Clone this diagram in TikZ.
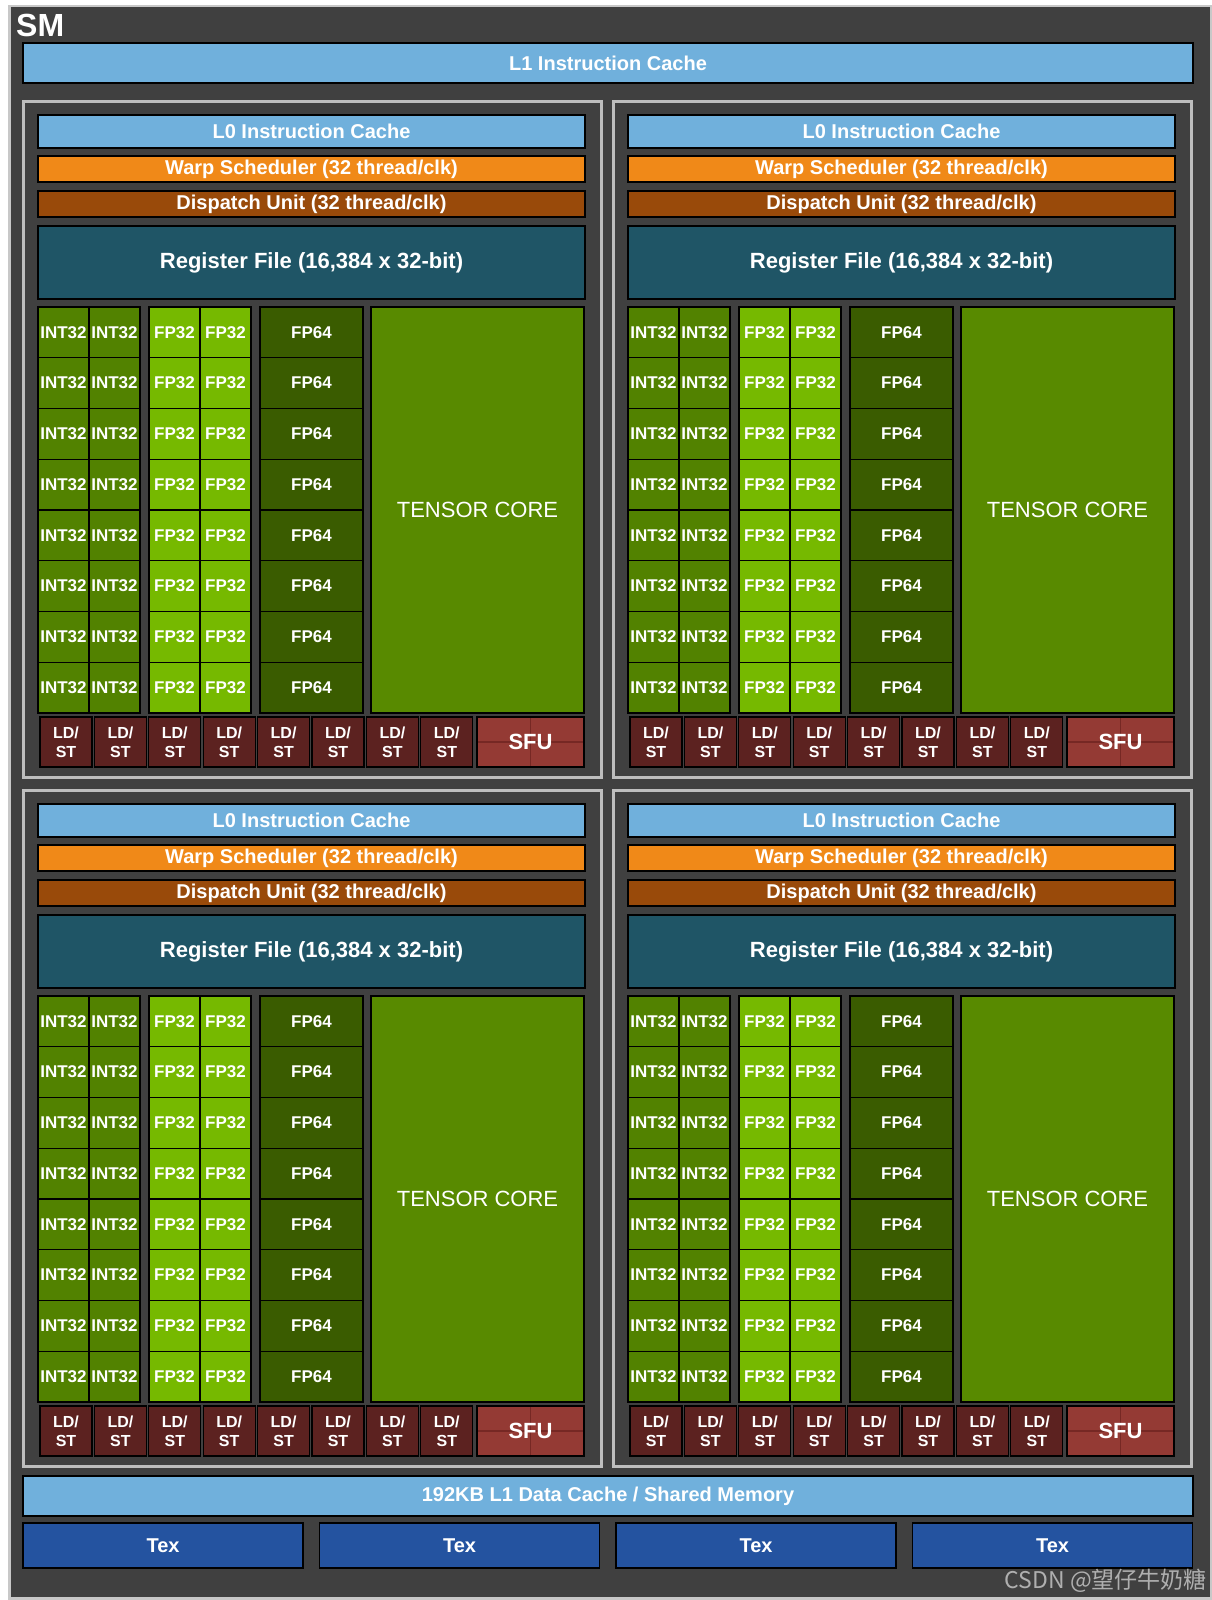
\documentclass[tikz,border=0pt]{standalone}
\usepackage{fontspec}
\setmainfont{Liberation Sans}
\newfontfamily\cjk{Noto Sans CJK SC}
\definecolor{cBG}{RGB}{64,64,64}
\definecolor{cOuter}{RGB}{200,200,200}
\definecolor{cQ}{RGB}{190,190,190}
\definecolor{cL1}{RGB}{112,176,220}
\definecolor{cWarp}{RGB}{240,137,24}
\definecolor{cDisp}{RGB}{153,74,10}
\definecolor{cReg}{RGB}{31,85,102}
\definecolor{cINT}{RGB}{82,130,0}
\definecolor{cFPs}{RGB}{118,185,0}
\definecolor{cFPd}{RGB}{58,92,0}
\definecolor{cTC}{RGB}{88,138,0}
\definecolor{cLDST}{RGB}{92,34,32}
\definecolor{cSFU}{RGB}{148,58,52}
\definecolor{cSFUl}{RGB}{118,40,36}
\definecolor{cTex}{RGB}{36,83,160}
\definecolor{cWM}{RGB}{175,175,175}
\newcommand\fs[2]{\fontsize{#1}{#2}\selectfont}
\newcommand\smquad[3]{%
\begin{scope}[shift={(#2,#3)}]
\node[qframe, minimum width=578pt, minimum height=676pt] (#1frame) at (1.5,1.5) {};
\node[bx, fill=cL1, font=\bfseries\fs{20}{24}, minimum width=547pt, minimum height=33pt] (#1lzero) at (16,15) {L0 Instruction Cache};
\node[bx, fill=cWarp, font=\bfseries\fs{20}{24}, minimum width=547pt, minimum height=26pt] (#1warp) at (16,56) {Warp Scheduler (32 thread/clk)};
\node[bx, fill=cDisp, font=\bfseries\fs{20}{24}, minimum width=547pt, minimum height=26pt] (#1disp) at (16,91) {Dispatch Unit (32 thread/clk)};
\node[bx, fill=cReg, font=\bfseries\fs{22}{26}, minimum width=547pt, minimum height=73pt] (#1reg) at (16,126) {Register File (16,384 x 32-bit)};
\foreach \r in {0,...,7}{%
 \pgfmathsetmacro\yy{207+\r*50.75}%
 \node[cell, fill=cINT] (#1inta\r) at (16,\yy) {INT32};
 \node[cell, fill=cINT] (#1intb\r) at (67,\yy) {INT32};
 \node[cell, fill=cFPs] (#1fpsa\r) at (127,\yy) {FP32};
 \node[cell, fill=cFPs] (#1fpsb\r) at (178,\yy) {FP32};
 \node[cell, fill=cFPd, minimum width=103pt] (#1fpd\r) at (238,\yy) {FP64};
}
\node[bx, fill=cTC, font=\fs{22}{26}, minimum width=213pt, minimum height=406pt] (#1tc) at (349,207) {TENSOR CORE};
\foreach \i in {0,...,7}{%
 \pgfmathsetmacro\xx{18+\i*54.4}%
 \node[ldst] (#1ldst\i) at (\xx,617) {LD/\\ST};
}
\node[bx, fill=cSFU, font=\bfseries\fs{22}{26}, minimum width=107pt, minimum height=50pt,
  path picture={\draw[cSFUl, line width=1.5pt] (path picture bounding box.north) -- (path picture bounding box.south);
  \draw[cSFUl, line width=1.5pt] (path picture bounding box.west) -- (path picture bounding box.east);}] (#1sfu) at (455,617) {SFU};
\end{scope}}
\begin{document}
\begin{tikzpicture}[x=1pt,y=-1pt,
  bx/.style={draw=black, line width=1.2pt, anchor=north west, inner sep=0pt, outer sep=0pt, text=white, align=center},
  qframe/.style={draw=cQ, line width=3pt, fill=cBG, anchor=north west, inner sep=0pt, outer sep=0pt},
  cell/.style={bx, font=\bfseries\fs{17}{20}, minimum width=51pt, minimum height=50.75pt},
  ldst/.style={bx, fill=cLDST, font=\bfseries\fs{16}{19}, minimum width=52pt, minimum height=50pt}]
\useasboundingbox (0,0) rectangle (1212,1600);
\fill[white] (0,0) rectangle (1212,1600);
\node[draw=cOuter, line width=2.5pt, fill=cBG, anchor=north west, inner sep=0pt, minimum width=1201.5pt, minimum height=1592pt] (sm) at (8,5) {};
\node[anchor=base west, inner sep=0pt, text=white, font=\bfseries\fs{32}{36}] (smlabel) at (16,37) {SM};
\node[bx, fill=cL1, font=\bfseries\fs{20}{24}, minimum width=1170pt, minimum height=40pt] (lonei) at (23,43) {L1 Instruction Cache};
\smquad{qa}{22}{100}
\smquad{qb}{612}{100}
\smquad{qc}{22}{789}
\smquad{qd}{612}{789}
\node[bx, fill=cL1, font=\bfseries\fs{20}{24}, minimum width=1170pt, minimum height=40pt] (lonedata) at (23,1476) {192KB L1 Data Cache / Shared Memory};
\foreach \i in {0,...,3}{%
 \pgfmathsetmacro\xx{23+\i*296.5}%
 \node[bx, fill=cTex, font=\bfseries\fs{20}{24}, minimum width=280pt, minimum height=45pt] (tex\i) at (\xx,1523) {Tex};
}
\node[anchor=base east, inner sep=0pt, text=cWM, font=\cjk\fs{23}{26}] (wm) at (1207,1588) {CSDN @望仔牛奶糖};
\end{tikzpicture}
\end{document}
